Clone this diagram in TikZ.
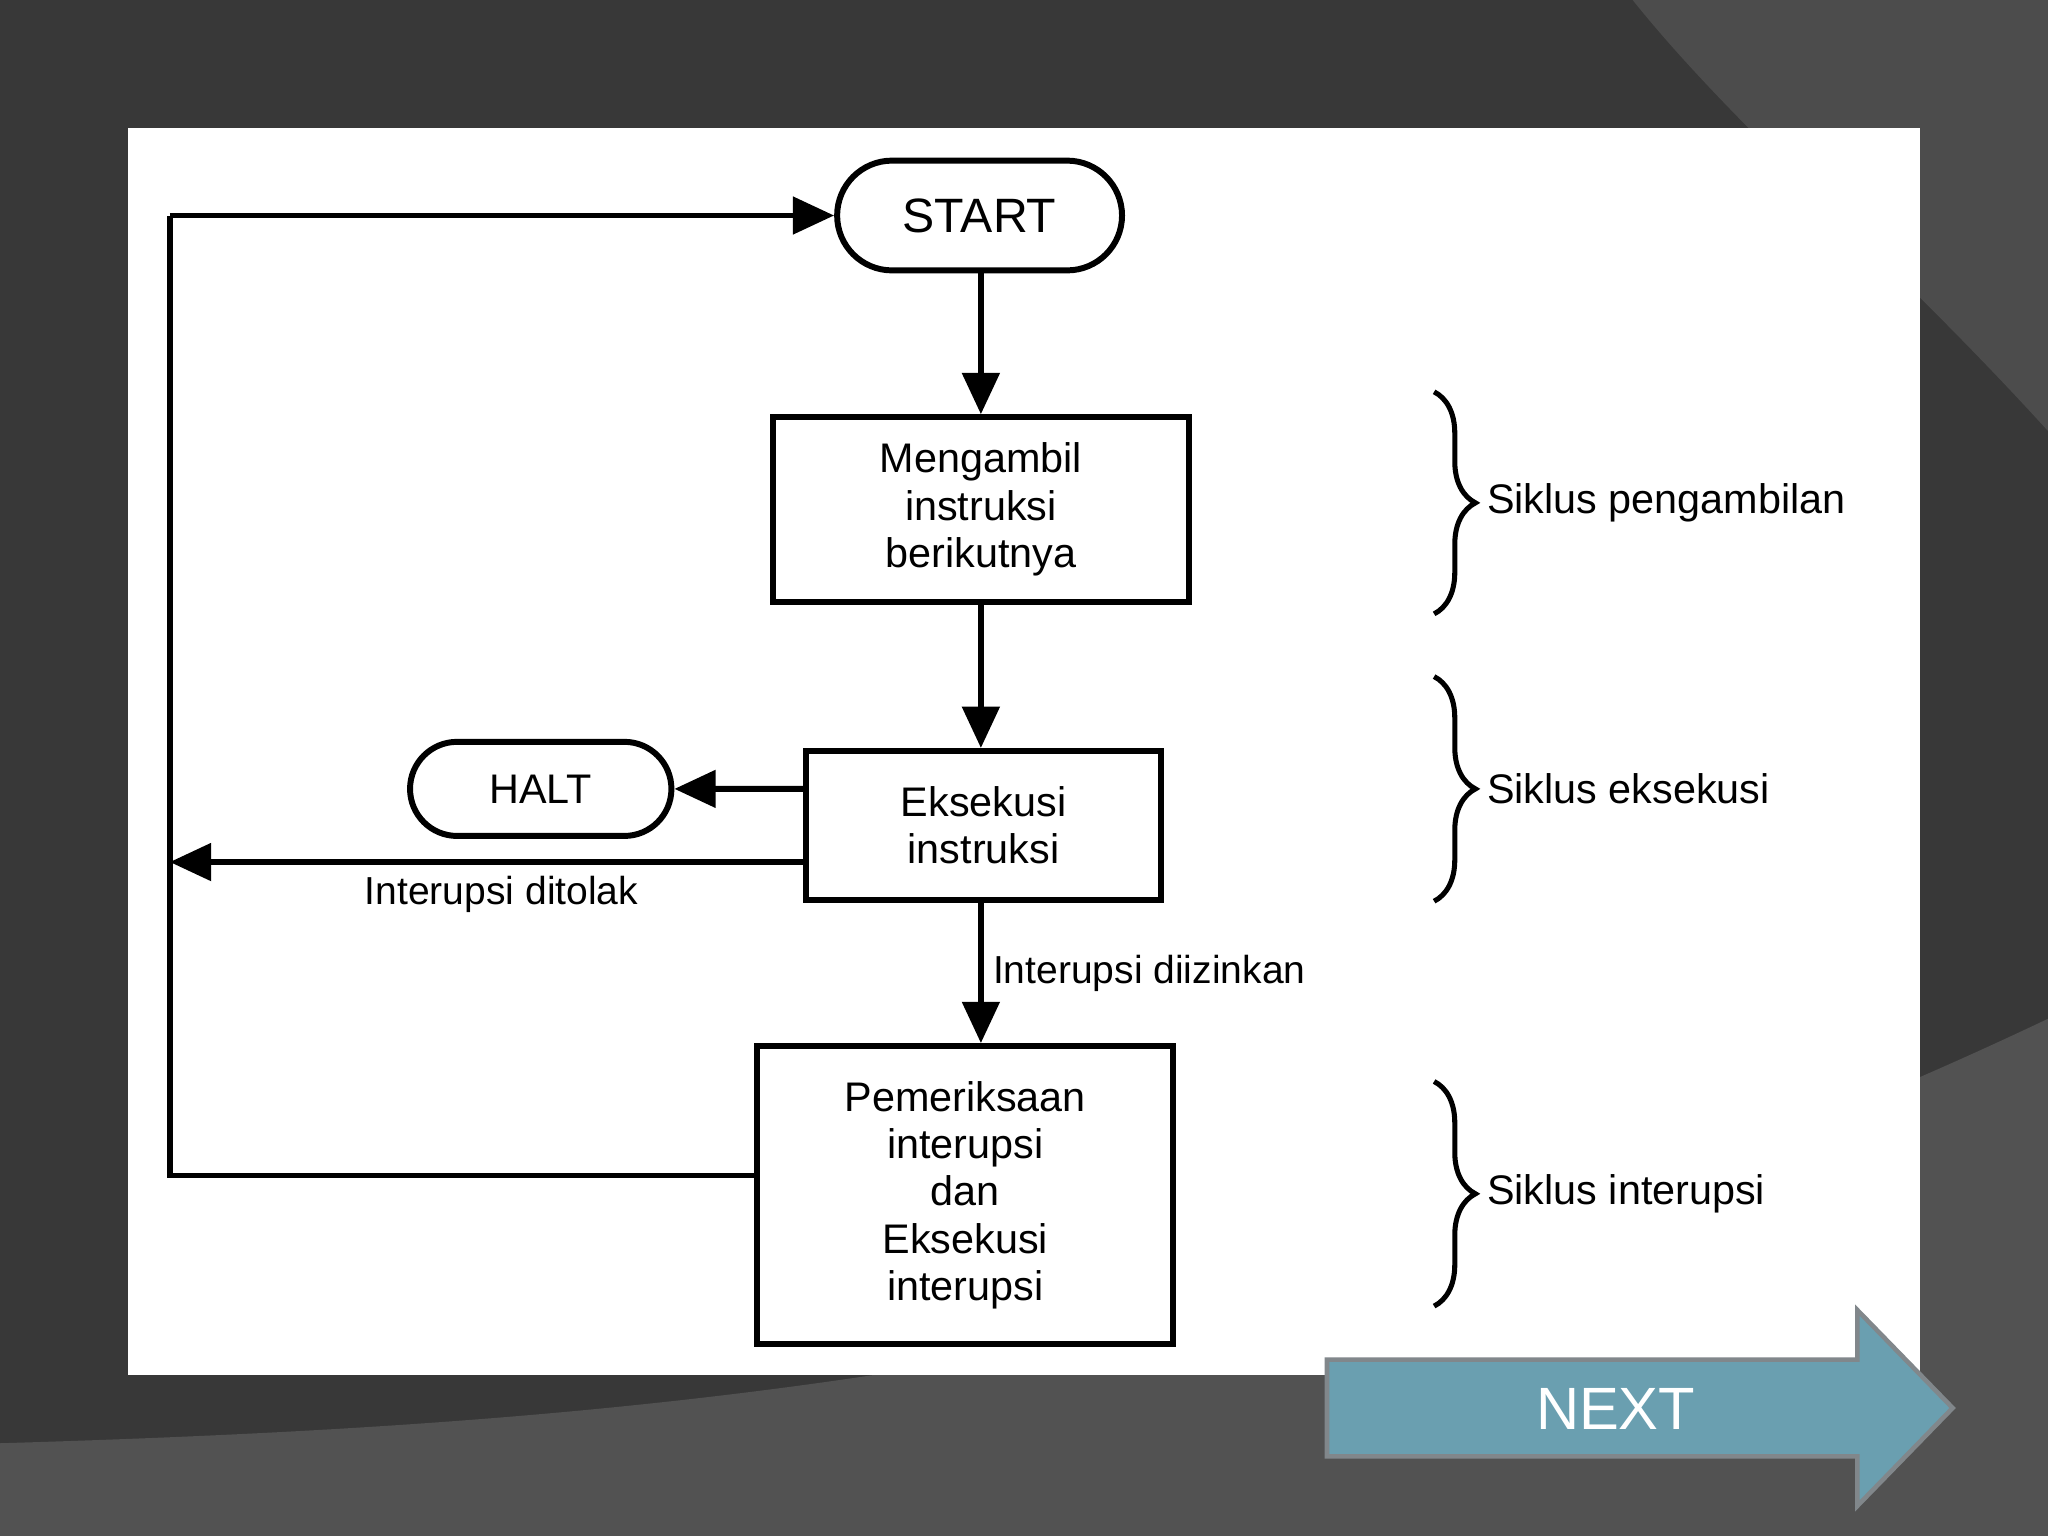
\documentclass[tikz,border=0pt]{standalone}
\usepackage{fontspec}
\setmainfont{Liberation Sans}
\usetikzlibrary{arrows.meta,shapes.misc,decorations.pathreplacing}
\begin{document}
\begin{tikzpicture}[x=0.01cm,y=-0.01cm,
  txt/.style={font=\fontsize{9}{10.3}\selectfont,align=center},
  box/.style={draw,line width=1.3pt,fill=white,txt,inner sep=0pt},
  term/.style={draw,line width=1.3pt,rounded rectangle,fill=white,txt,inner sep=0pt},
  ar/.style={line width=1.3pt,-{Triangle[length=9pt,width=8pt]}},
  ln/.style={line width=1.3pt},
  br/.style={decorate,decoration={brace,amplitude=9pt},line width=1.1pt}]
\useasboundingbox (0,0) rectangle (1568,1176);
\fill[black!78] (0,0) rectangle (1568,1176);
\fill[black!70] (1250,0) -- (1568,0) -- (1568,330) .. controls (1450,200) and (1330,100) .. (1250,0);
\fill[black!68] (0,1105) .. controls (500,1090) and (1000,1050) .. (1568,780) -- (1568,1176) -- (0,1176) -- cycle;
\fill[white] (98,98) rectangle (1470,1053);
\node[term,minimum width=2.18cm,minimum height=0.84cm] (start) at (750,165) {\fontsize{10.5}{12}\selectfont START};
\node[box,minimum width=3.18cm,minimum height=1.41cm] (m) at (751,390) {Mengambil\\instruksi\\berikutnya};
\node[box,minimum width=2.71cm,minimum height=1.14cm] (e) at (753,632) {Eksekusi\\instruksi};
\node[term,minimum width=2.0cm,minimum height=0.72cm] (halt) at (414,604) {HALT};
\node[box,minimum width=3.18cm,minimum height=2.28cm] (p) at (739,915) {Pemeriksaan\\interupsi\\dan\\Eksekusi\\interupsi};
\coordinate (tl) at (130,165);
\coordinate (bl) at (130,900);
\coordinate (ml) at (130,660);
\draw[ar] (start.south-|m) -- (m.north);
\draw[ar] (m) -- (e.north-|m);
\draw[ar] (e.west|-halt) -- (halt);
\draw[ar] (e.west|-ml) -- (ml);
\draw[ar] (e.south-|m) -- node[right,txt,font=\fontsize{8.5}{10}\selectfont,inner sep=2pt]{Interupsi diizinkan} (p.north-|m);
\draw[ln] (p.west|-bl) -- (bl) -- (tl);
\draw[ar] (tl) -- (start);
\node[txt,font=\fontsize{8.5}{10}\selectfont] (rej) at (384,685) {Interupsi ditolak};
\draw[br] (1098,300) -- (1098,470) node[midway,right=10pt,txt,inner sep=1pt] (s1) {Siklus pengambilan};
\draw[br] (1098,518) -- (1098,690) node[midway,right=10pt,txt,inner sep=1pt] (s2) {Siklus eksekusi};
\draw[br] (1098,828) -- (1098,1000) node[midway,right=10pt,txt,inner sep=1pt] (s3) {Siklus interupsi};
\fill[draw=black!60!cyan!20!gray,fill={rgb,255:red,106;green,159;blue,176},line width=1pt] (1016,1041) -- (1422,1041) -- (1422,1003) -- (1495,1078) -- (1422,1153) -- (1422,1115) -- (1016,1115) -- cycle;
\node[white,font=\fontsize{13}{16}\selectfont] (next) at (1237,1079) {NEXT};
\end{tikzpicture}
\end{document}
